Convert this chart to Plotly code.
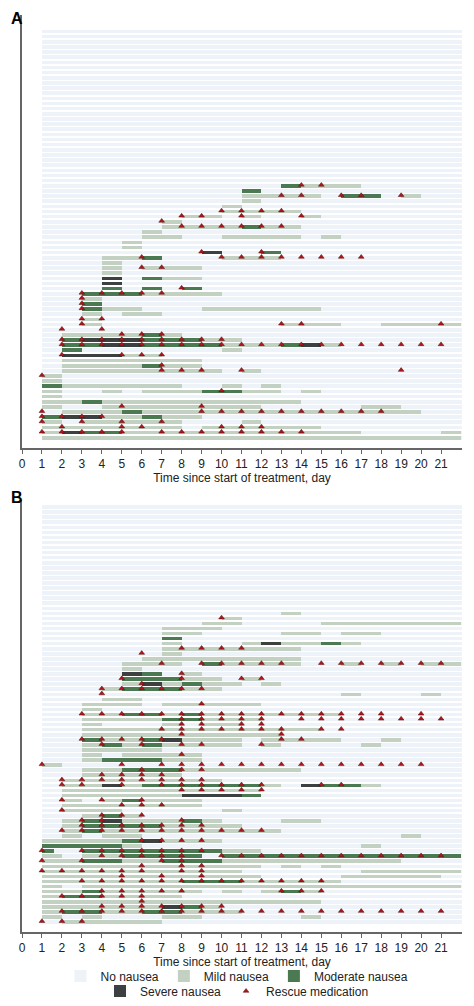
import plotly.graph_objects as go

# ---- Data: (row, start_day, end_day); row 0 = bottom ----
A_rows = 80
B_rows = 83
A_mild = [(0,1,22),(1,1,2),(1,5,17),(1,21,22),(2,1,8),(2,9,15),(3,1,2),(3,3,8),(3,11,12),(4,4,6),(4,7,9),
 (5,2,5),(5,6,20),(6,1,2),(6,4,12),(6,17,19),(7,1,3),(7,4,14),(8,1,2),(9,1,2),(9,4,5),(9,6,9),(9,11,13),(9,14,15),
 (10,2,8),(10,10,11),(10,12,13),(11,1,2),(12,1,2),(13,2,10),(13,11,12),(14,2,6),(14,7,9),(15,2,9),(16,5,7),(17,10,11),
 (18,10,13),(18,15,16),(19,9,11),(20,2,6),(20,7,8),(22,3,4),(22,13,16),(22,18,22),(23,3,4),(24,3,4),(24,5,7),
 (25,4,6),(25,9,15),(27,3,4),(28,6,10),(31,7,9),(32,4,5),(33,4,5),(33,6,9),(34,4,5),(35,4,6),(35,10,13),(37,5,6),
 (38,5,6),(39,6,8),(39,10,14),(39,15,16),(40,6,7),(41,7,11),(41,12,14),(42,7,8),(43,8,10),(43,11,12),(43,14,15),
 (44,10,14),(45,10,11),(46,11,12),(47,11,15),(47,19,20),(49,14,17)]
A_moderate = [(1,3,5),(4,1,2),(4,6,7),(5,5,6),(7,3,4),(9,9,11),(10,1,2),(14,6,7),(17,2,3),(18,2,4),(18,6,10),(18,13,14),
 (19,2,3),(19,6,9),(20,6,7),(25,3,4),(26,3,4),(28,3,6),(29,4,5),(29,6,7),(29,8,9),(31,6,7),(35,6,7),(36,12,13),
 (41,11,12),(47,16,18),(48,11,12),(49,13,14)]
A_severe = [(1,2,3),(4,2,4),(16,2,5),(18,4,6),(18,14,15),(19,3,6),(30,4,5),(31,4,5),(36,9,10)]
A_rescue = [(1,1),(1,2),(1,3),(1,4),(1,5),(1,7),(1,8),(1,9),(1,10),(1,11),(1,12),(1,13),(1,14),
 (2,2),(2,5),(2,6),(2,10),(2,11),(2,12),(3,1),(3,3),(3,5),(3,7),(4,1),(4,2),(4,3),(4,4),
 (5,1),(5,9),(5,10),(5,11),(5,12),(5,13),(5,14),(5,15),(5,16),(5,17),(5,18),(6,5),(6,9),(9,10),(12,1),
 (13,7),(13,8),(13,9),(13,11),(13,19),(14,7),(16,2),(16,5),(16,6),(16,7),
 (18,2),(18,3),(18,4),(18,5),(18,6),(18,7),(18,8),(18,9),(18,10),(18,11),(18,12),(18,13),(18,14),(18,15),(18,16),(18,17),(18,18),(18,19),(18,20),(18,21),
 (19,2),(19,3),(19,4),(19,5),(19,6),(19,7),(19,8),(19,9),(19,10),(20,5),(20,6),(20,7),(21,2),(21,4),
 (22,3),(22,13),(22,14),(22,21),(23,3),(23,4),(25,3),(26,3),(27,3),(28,3),(28,4),(28,5),(28,6),(28,7),(29,8),
 (33,6),(33,7),(35,6),(35,10),(35,11),(35,12),(35,13),(35,14),(35,15),(35,16),(35,17),(36,9),(36,12),
 (41,8),(41,9),(41,10),(41,11),(41,12),(41,13),(42,7),(43,8),(43,9),(43,11),(43,14),(44,10),(44,11),(44,12),(44,13),
 (47,13),(47,14),(47,16),(47,17),(47,19),(49,14),(49,15)]

B_mild = [(0,2,7),(1,1,2),(1,3,4),(1,7,9),(1,14,15),(2,1,2),(2,4,6),(2,8,11),(3,1,7),(3,9,10),(4,1,15),(5,1,2),(5,4,8),
 (6,1,3),(6,4,9),(6,10,11),(6,12,13),(6,14,15),(7,1,2),(7,3,22),(8,1,8),(8,11,16),(9,1,12),(9,16,21),(10,1,11),(10,17,22),
 (11,1,12),(11,13,14),(11,15,16),(12,1,3),(12,5,7),(12,10,19),(13,1,2),(13,3,5),(14,10,12),(15,5,6),(15,17,18),
 (16,1,5),(16,7,10),(17,2,3),(17,4,6),(17,19,20),(18,2,3),(18,4,13),(19,2,3),(19,7,11),(20,2,3),(20,5,8),(20,9,10),(20,13,15),
 (21,3,4),(21,5,6),(22,2,5),(22,10,11),(23,2,9),(24,2,3),(24,4,5),(24,6,9),(25,2,8),(26,2,12),(27,2,4),(27,5,6),(27,12,13),(27,17,18),
 (28,2,10),(29,3,8),(30,3,5),(30,8,14),(31,1,2),(32,3,4),(32,7,9),(33,3,4),(33,5,9),(34,3,7),(35,3,4),(35,5,6),(35,7,11),(35,12,13),(35,17,18),
 (36,4,6),(36,8,11),(36,12,16),(36,18,19),(37,3,13),(38,3,15),(39,3,4),(39,7,8),(39,9,11),(40,3,7),(40,9,12),(41,3,5),(41,7,8),(41,9,16),
 (42,3,4),(43,3,6),(43,7,12),(44,4,6),(45,16,17),(45,20,21),(46,4,5),(46,8,10),(47,5,6),(47,7,8),(47,9,11),(47,12,13),(48,8,10),(48,11,12),
 (49,8,9),(50,5,6),(51,5,8),(51,10,14),(51,16,17),(51,18,19),(51,20,22),(52,6,14),(53,7,8),(54,7,14),(55,7,8),(55,11,12),(55,13,15),(55,16,17),
 (57,7,9),(57,13,15),(57,16,18),(58,7,10),(59,9,11),(59,15,22),(60,10,11),(61,13,14)]
B_moderate = [(2,2,4),(2,6,8),(3,8,9),(5,2,4),(6,3,4),(6,13,14),(8,8,11),(12,3,5),(12,7,10),(13,5,9),(13,10,22),(14,1,1.6),(14,3,10),
 (15,1,5),(16,5,6),(18,3,4),(19,3,7),(20,3,4),(20,8,9),(21,4,5),(24,5,6),(25,11,12),(27,6,12),(27,15,17),(30,5,8),(32,4,7),
 (35,4,5),(35,6,7),(36,3,4),(36,6,7),(40,7,9),(41,5,7),(41,8,9),(46,5,8),(47,8,9),(48,5,8),(49,6,7),(51,9,10),(55,15,16),(56,7,8)]
B_severe = [(3,7,8),(16,6,7),(20,4,5),(25,8,11),(27,4,5),(27,14,15),(36,7,8),(47,6,7),(49,5,6),(55,12,13)]
B_rescue = [(0,1),(0,2),(0,3)] + [(2,d) for d in range(2,22)] + [(3,d) for d in range(4,11)] + [(4,6)] + [(5,d) for d in range(2,7)] + \
 [(6,4),(6,5),(6,6),(6,7),(6,8),(6,13),(6,14),(6,15)] + [(8,d) for d in range(3,16)] + [(9,5),(9,7),(9,9)] + \
 [(10,1),(10,2),(10,3),(10,4),(10,5),(10,6),(10,8),(10,9),(11,6),(11,8),(11,9),(12,1),(12,3),(12,7),(12,8)] + \
 [(13,d) for d in [4,5,6,7,8,10,11,12,13,14,15,16,17,18,19,20,21]] + [(14,1)] + [(14,d) for d in range(3,10)] + \
 [(16,6),(16,7),(16,8),(16,9)] + [(18,d) for d in range(2,13)] + [(19,d) for d in range(3,10)] + [(20,3),(20,4),(20,8),
 (21,4),(21,5),(21,6),(22,2),(23,5),(23,6),(23,7),(24,2),(24,4),(24,6)] + [(26,d) for d in range(8,13)] + \
 [(27,d) for d in [2,3,5,7,8,9,10,11,12,15,16]] + [(28,d) for d in range(2,10)] + [(29,4),(29,5),(29,6),(29,7),(30,6),(30,8),(30,9)] + \
 [(31,d) for d in [1,5,7,8,9,10,11,12,13,14,15,16,17,18,19,20]] + [(33,8),(35,4),(35,6),(35,8),(35,9),(35,12)] + \
 [(36,3),(36,4),(36,5),(36,6),(36,7),(36,13),(36,14),(37,8),(37,13)] + [(38,d) for d in [7,8,9,10,11,12,13,15,16]] + \
 [(39,8),(39,9),(39,11),(39,12)] + [(40,d) for d in [8,9,10,11,12,14,15,16,17,18,19,20,21]] + \
 [(41,d) for d in [3,4,5,6,7,8,9,10,11,12,13,14,15,16,17,18,20]] + [(43,9),(45,4)] + [(46,d) for d in range(4,10)] + \
 [(47,6),(48,5),(48,8),(48,11),(48,12),(49,8)] + [(51,d) for d in [7,9,10,11,12,13,15,16,17,18,19,20,21]] + \
 [(53,6),(54,8),(54,9),(54,10),(54,11),(60,10)]

day_ticks = list(range(0, 22))
C_NONE, C_MILD, C_MOD, C_SEV, C_RESC = "#edf3f8", "#c3d1c3", "#4b7a52", "#3c4040", "#b3141b"

W, H, OFF = 458, 990, 8  # page body has an 8px margin

def px_x(p):
    return (p - OFF) / W

def px_y(p):
    return 1 - (p - OFF) / H

fig = go.Figure()

def add_panel(nrows, mild, mod, sev, resc, xa, ya, show):
    rows = list(range(nrows))
    fig.add_trace(go.Bar(y=rows, x=[21.05]*nrows, base=[1]*nrows, orientation="h", width=0.7,
                         marker=dict(color=C_NONE, line_width=0), name="No nausea", showlegend=show,
                         legend="legend", xaxis=xa, yaxis=ya))
    for segs, col, nm, lg in [(mild, C_MILD, "Mild nausea", "legend"), (mod, C_MOD, "Moderate nausea", "legend"),
                              (sev, C_SEV, "Severe nausea", "legend2")]:
        fig.add_trace(go.Bar(y=[s[0] for s in segs], x=[s[2]-s[1] for s in segs], base=[s[1] for s in segs],
                             orientation="h", width=0.7, marker=dict(color=col, line_width=0), name=nm,
                             showlegend=show, legend=lg, xaxis=xa, yaxis=ya))
    fig.add_trace(go.Scatter(x=[r[1] for r in resc], y=[r[0] + 0.15 for r in resc], mode="markers",
                             marker=dict(symbol="triangle-up", size=5, color=C_RESC, line=dict(color="#5a0a0a", width=0.5)),
                             name="Rescue medication", showlegend=show, legend="legend2", xaxis=xa, yaxis=ya))

add_panel(A_rows, A_mild, A_moderate, A_severe, A_rescue, "x", "y", True)
add_panel(B_rows, B_mild, B_moderate, B_severe, B_rescue, "x2", "y2", False)

xcommon = dict(range=[0, 22.05], tickvals=day_ticks, ticks="outside", ticklen=4, tickcolor="#666",
               showline=True, linecolor="#666", linewidth=1.5, showgrid=False, zeroline=False,
               automargin=False, tickfont=dict(size=12, color="#222"),
               title=dict(text="Time since start of treatment, day", font=dict(size=12, color="#222"), standoff=2))
ycommon = dict(showticklabels=False, ticks="", showline=True, linecolor="#666", linewidth=1.5,
               showgrid=False, zeroline=False, automargin=False)

leg = dict(orientation="h", x=0.5, xanchor="center", yanchor="middle", font=dict(size=12),
           traceorder="normal", bgcolor="rgba(0,0,0,0)")

fig.update_layout(
    width=W, height=H, margin=dict(l=0, r=0, t=0, b=0, autoexpand=False),
    paper_bgcolor="white", plot_bgcolor="white", barmode="overlay", bargap=0,
    font=dict(family="Liberation Sans, Arial", color="#222"),
    xaxis=dict(domain=[px_x(22), px_x(462)], anchor="y", **xcommon),
    yaxis=dict(domain=[px_y(448), px_y(15)], range=[-2.0, 82.2], anchor="x", **ycommon),
    xaxis2=dict(domain=[px_x(22), px_x(462)], anchor="y2", **xcommon),
    yaxis2=dict(domain=[px_y(932), px_y(500)], range=[-1.98, 83.4], anchor="x2", **ycommon),
    legend=dict(y=px_y(976), **leg),
    legend2=dict(y=px_y(991), **leg),
    annotations=[
        dict(text="<b>A</b>", x=px_x(9), y=px_y(8), xref="paper", yref="paper", xanchor="left", yanchor="top",
             showarrow=False, font=dict(size=16, color="black")),
        dict(text="<b>B</b>", x=px_x(9), y=px_y(487), xref="paper", yref="paper", xanchor="left", yanchor="top",
             showarrow=False, font=dict(size=16, color="black")),
    ],
)
fig.write_html("out.html")
